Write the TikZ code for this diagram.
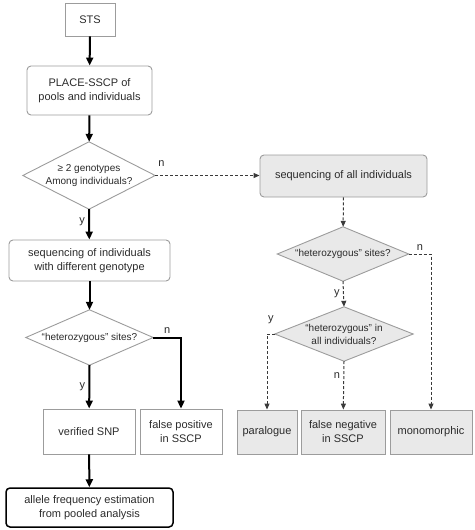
\documentclass[tikz,border=0pt]{standalone}
\usepackage{fontspec}
\setmainfont{Liberation Sans}
\usepackage{xcolor}
\definecolor{cEdge}{HTML}{9C9C9C}
\definecolor{cFill}{HTML}{E9E9E9}
\definecolor{cInk}{HTML}{2B2B2B}
\definecolor{cDash}{HTML}{3A3A3A}
\usepackage{tikz}
\usetikzlibrary{arrows.meta,backgrounds}
\tikzset{
  node-box/.style={draw=cEdge,line width=0.9pt,inner sep=0pt,align=center,
    text=cInk,font=\fontsize{11}{14}\selectfont},
  node-round/.style={node-box,rounded corners=4pt},
  node-grey/.style={fill=cFill},
  node-end/.style={node-round,draw=black,line width=1.5pt},
  node-dec/.style={inner sep=0pt,align=center,text=cInk,
    font=\fontsize{10}{13}\selectfont},
  dec-line/.style={draw=cEdge,line width=0.9pt},
  arrow/.style={-{Triangle[length=8pt,width=7pt]},line width=2pt,draw=black},
  arrow-dashed/.style={-{Triangle[length=6pt,width=5pt]},line width=1pt,
    dash pattern=on 3pt off 2pt,draw=cDash},
  lab/.style={font=\fontsize{11}{13}\selectfont,text=cInk},
}

\begin{document}
\begin{tikzpicture}[x=1pt,y=-1pt]
  \useasboundingbox (0,0) rectangle (474,530);
  % left column
  \node[node-box,minimum width=50pt,minimum height=33pt] (sts) at (90,19.5) {STS};
  \node[node-round,minimum width=125pt,minimum height=49pt] (place) at (89.5,90.5)
    {PLACE-SSCP of\\pools and individuals};
  \node[node-dec,minimum width=132pt,minimum height=67pt] (gen) at (89,175.5)
    {≥ 2 genotypes\\Among individuals?};
  \node[node-round,minimum width=161pt,minimum height=41pt] (seqind) at (89.5,260.5)
    {sequencing of individuals\\with different genotype};
  \node[node-dec,minimum width=127pt,minimum height=55pt] (het) at (89.5,337.5)
    {“heterozygous” sites?};
  \node[node-box,minimum width=92pt,minimum height=45pt] (snp) at (89,431.5) {verified SNP};
  \node[node-box,minimum width=82pt,minimum height=45pt] (fpos) at (181,431.5)
    {false positive\\in SSCP};
  \node[node-end,minimum width=167pt,minimum height=39pt] (allele) at (89.5,507.5)
    {allele frequency estimation\\from pooled analysis};
  % right column
  \node[node-round,node-grey,minimum width=167pt,minimum height=42pt] (seqall) at (343.5,176)
    {sequencing of all individuals};
  \node[node-dec,minimum width=131pt,minimum height=54pt] (het2) at (343,254)
    {“heterozygous” sites?};
  \node[node-dec,minimum width=138pt,minimum height=54pt] (hetall) at (344,334)
    {“heterozygous” in\\all individuals?};
  \node[node-box,node-grey,minimum width=60pt,minimum height=44pt] (para) at (267,432) {paralogue};
  \node[node-box,node-grey,minimum width=84pt,minimum height=44pt] (fneg) at (343,432)
    {false negative\\in SSCP};
  \node[node-box,node-grey,minimum width=82pt,minimum height=44pt] (mono) at (431,432) {monomorphic};
  % diamonds behind their texts
  \begin{scope}[on background layer]
    \foreach \d in {gen,het}
      \draw[dec-line,fill=white] (\d.north) -- (\d.east) -- (\d.south) -- (\d.west) -- cycle;
    \foreach \d in {het2,hetall}
      \draw[dec-line,fill=cFill] (\d.north) -- (\d.east) -- (\d.south) -- (\d.west) -- cycle;
  \end{scope}
  % solid path
  \draw[arrow] (sts) -- (place);
  \draw[arrow] (place) -- (gen);
  \draw[arrow] (gen.south) -- node[lab,left,pos=0.4]{y} (seqind);
  \draw[arrow] (seqind) -- (het);
  \draw[arrow] (het.south) -- node[lab,left]{y} (snp);
  \draw[arrow] (het.east) -| node[lab,above,pos=0.25]{n} (fpos.north);
  \draw[arrow] (snp) -- (allele);
  % dashed path
  \draw[arrow-dashed] (gen.east) -- node[lab,above=5pt,pos=0.06]{n} (gen.east -| seqall.west);
  \draw[arrow-dashed] (seqall) -- (het2);
  \draw[arrow-dashed] (het2.south) -- node[lab,left]{y} (hetall.north);
  \draw[arrow-dashed] (het2.east) -| node[lab,above,pos=0.25]{n} (mono.north);
  \draw[arrow-dashed] (hetall.west) -| node[lab,above=6pt,pos=0.25]{y} (para.north);
  \draw[arrow-dashed] (hetall.south) -- node[lab,left,pos=0.3]{n} (fneg);
\end{tikzpicture}
\end{document}
